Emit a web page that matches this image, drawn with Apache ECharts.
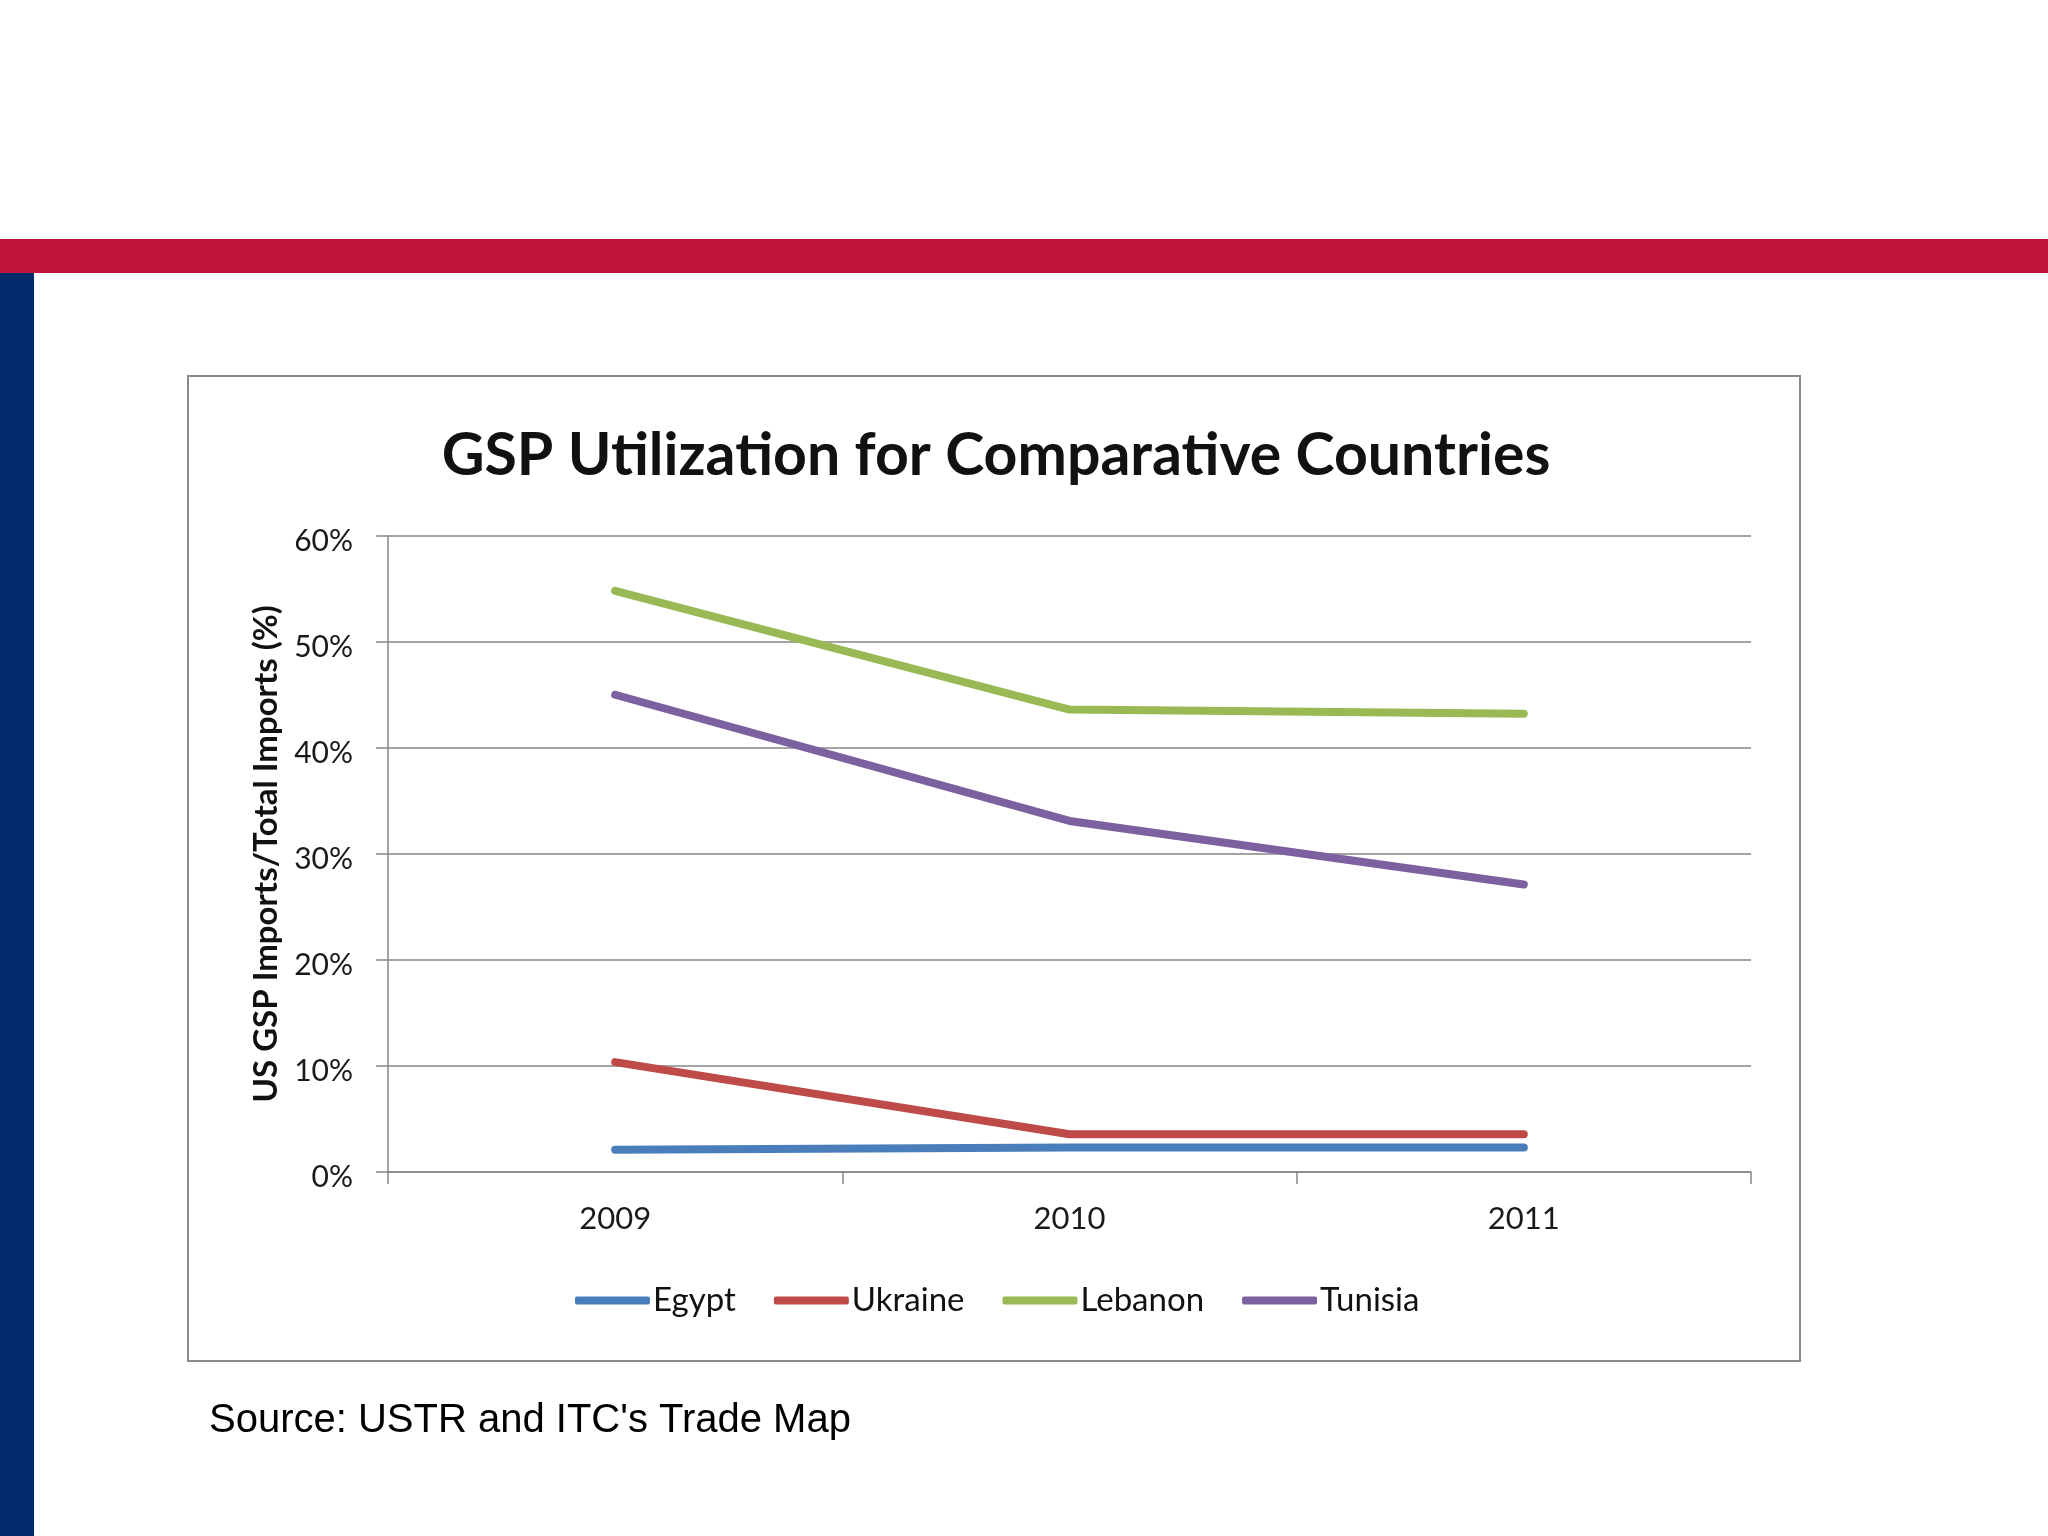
<!DOCTYPE html>
<html>
<head>
<meta charset="utf-8">
<script src="https://cdn.jsdelivr.net/npm/echarts@6/dist/echarts.min.js"></script>
<style>
html,body{margin:0;padding:0;background:#fff;}
#main{width:2048px;height:1536px;}
</style>
</head>
<body>
<div id="main"></div>
<script>
const years = ['2009', '2010', '2011'];
const egypt = [2.1, 2.3, 2.3];
const ukraine = [10.35, 3.55, 3.55];
const lebanon = [54.8, 43.6, 43.2];
const tunisia = [45.0, 33.1, 27.1];
const seriesNames = ['Egypt', 'Ukraine', 'Lebanon', 'Tunisia'];
const seriesColors = ['#4a7ebb', '#be4b48', '#98b954', '#7d60a0'];
const yTicks = [0, 10, 20, 30, 40, 50, 60];

const chart = echarts.init(document.getElementById('main'));
const dataSets = [egypt, ukraine, lebanon, tunisia];
const font = 'Lato, "Open Sans", sans-serif';

chart.setOption({
  animation: false,
  backgroundColor: '#ffffff',
  title: {
    text: 'GSP Utilization for Comparative Countries',
    left: 991, top: 451, textAlign: 'center', textVerticalAlign: 'middle',
    textStyle: { fontFamily: font, fontWeight: 'bold', fontSize: 59, color: '#111' }
  },
  graphic: [
    { type: 'rect', shape: { x: 0, y: 239, width: 2048, height: 34 }, style: { fill: '#c0143c' }, silent: true },
    { type: 'rect', shape: { x: 0, y: 273, width: 34, height: 1263 }, style: { fill: '#012a6b' }, silent: true },
    { type: 'rect', shape: { x: 188, y: 376, width: 1612, height: 985 }, style: { fill: 'none', stroke: '#8a8a8a', lineWidth: 2 }, silent: true, z: -1 },
    { type: 'text', left: 209, top: 1401, style: { text: "Source: USTR and ITC's Trade Map", fontFamily: '"Liberation Sans", Arial, sans-serif', fontSize: 40, fill: '#000' } }
  ],
  legend: {
    data: seriesNames,
    left: 570, top: 1279,
    icon: 'roundRect',
    itemWidth: 75, itemHeight: 8, itemGap: 38,
    textStyle: { fontFamily: font, fontSize: 33, color: '#111', padding: [0, 0, 0, -2] }
  },
  grid: { left: 388, right: 297, top: 535.7, bottom: 364.1, containLabel: false },
  xAxis: {
    type: 'category',
    data: years,
    boundaryGap: true,
    axisLine: { lineStyle: { color: '#868686', width: 1.5 } },
    axisTick: { show: true, length: 12, inside: false, lineStyle: { color: '#868686', width: 1.5 } },
    axisLabel: { margin: 32, fontFamily: font, fontSize: 31, color: '#1a1a1a' },
    splitLine: { show: false }
  },
  yAxis: {
    type: 'value',
    min: 0, max: 60, interval: 10,
    name: 'US GSP Imports/Total Imports (%)',
    nameLocation: 'middle',
    nameGap: 105,
    nameRotate: 90,
    nameTextStyle: { fontFamily: font, fontWeight: 'bold', fontSize: 33, color: '#111' },
    axisLine: { show: true, lineStyle: { color: '#868686', width: 1.5 } },
    axisTick: { show: true, length: 12, lineStyle: { color: '#868686', width: 1.5 } },
    axisLabel: {
      margin: 35, fontFamily: font, fontSize: 30, color: '#1a1a1a',
      formatter: function (v) { return yTicks.indexOf(v) >= 0 ? '{a|' + v + '%}' : ''; },
      rich: { a: { fontFamily: font, fontSize: 30, color: '#1a1a1a', padding: [11, 0, 0, 0] } }
    },
    splitLine: { show: true, lineStyle: { color: '#868686', width: 1.5 } }
  },
  series: seriesNames.map(function (n, i) {
    return {
      name: n, type: 'line', data: dataSets[i],
      symbol: 'none', smooth: false,
      color: seriesColors[i],
      lineStyle: { width: 8, color: seriesColors[i], cap: 'round', join: 'round' },
      z: 3
    };
  })
});
</script>
</body>
</html>
